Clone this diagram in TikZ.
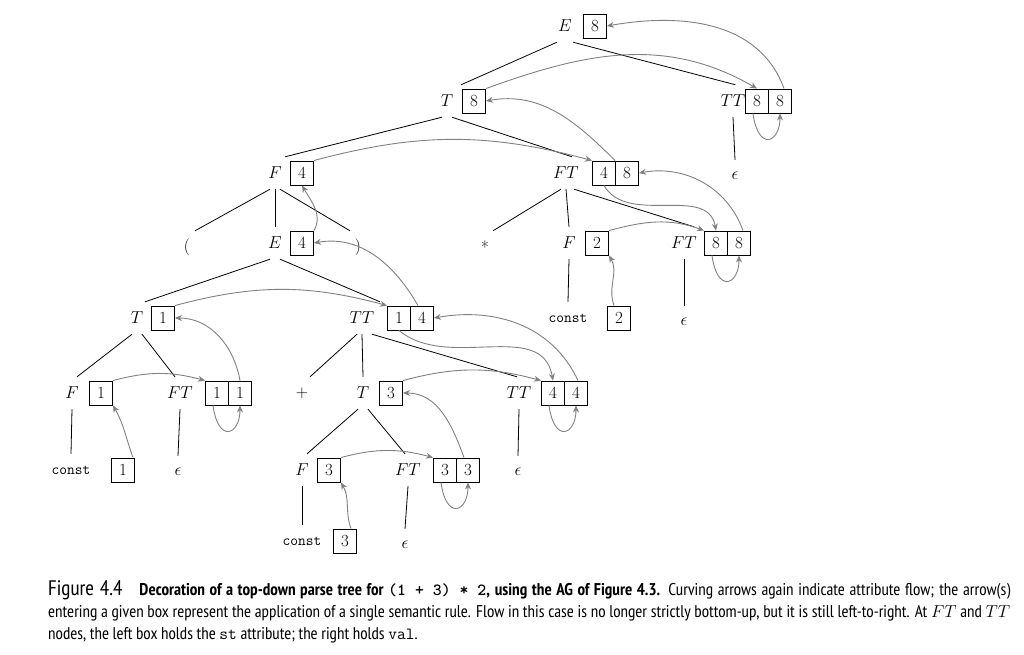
\documentclass[tikz,border=0pt]{standalone}
\usepackage{fontspec}
\newfontfamily\capfont{PT Sans Narrow}
\usetikzlibrary{arrows.meta}
\begin{document}
\begin{tikzpicture}[x=1pt,y=-1pt,
  bx/.style={draw,line width=0.9pt,minimum width=23pt,minimum height=24pt,inner sep=0pt,font=\fontsize{17}{17}\selectfont},
  lb/.style={inner sep=0pt,minimum height=32pt,minimum width=14pt,font=\fontsize{17}{17}\selectfont},
  tr/.style={line width=0.8pt},
  fl/.style={draw=gray,line width=0.9pt,-{Stealth[length=7pt,width=6pt]}},
  cst/.style={inner sep=0pt,minimum height=32pt,font=\ttfamily\fontsize{15}{15}\selectfont}]
\useasboundingbox (0,0) rectangle (1024,654);
% level 0
\node[lb] (E) at (565,26) {$E$};
\node[bx] (Eb) at (595,26) {8};
% level 1
\node[lb] (T) at (447,101) {$T$};
\node[bx] (Tb) at (474,101) {8};
\node[lb] (TT) at (733,101) {$TT$};
\node[bx] (TTa) at (757,101) {8};
\node[bx] (TTb) at (780,101) {8};
% level 2
\node[lb] (F) at (275,173) {$F$};
\node[bx] (Fb) at (302,173) {4};
\node[lb] (FT) at (566,173) {$FT$};
\node[bx] (FTa) at (604,173) {4};
\node[bx] (FTb) at (627,173) {8};
\node[lb] (e1) at (735,176) {$\epsilon$};
% level 3
\node[lb] (lp) at (187,247) {(};
\node[lb] (E2) at (275,243) {$E$};
\node[bx] (E2b) at (302,243) {4};
\node[lb] (rp) at (358,247) {)};
\node[lb] (st) at (485,247) {*};
\node[lb] (F2) at (569,243) {$F$};
\node[bx] (F2b) at (597,243) {2};
\node[lb] (FT2) at (684,243) {$FT$};
\node[bx] (FT2a) at (716,243) {8};
\node[bx] (FT2b) at (739,243) {8};
% level 4
\node[lb] (T1) at (137,318) {$T$};
\node[bx] (T1b) at (163,318) {1};
\node[lb] (TT1) at (362,318) {$TT$};
\node[bx] (TT1a) at (399,318) {1};
\node[bx] (TT1b) at (422,318) {4};
\node[cst] (c2) at (568,318) {const};
\node[bx] (c2b) at (619,318) {2};
\node[lb] (e2) at (684,322) {$\epsilon$};
% level 5
\node[lb] (F1) at (72,393) {$F$};
\node[bx] (F1b) at (101,393) {1};
\node[lb] (FT1) at (180,393) {$FT$};
\node[bx] (FT1a) at (217,393) {1};
\node[bx] (FT1b) at (240,393) {1};
\node[lb] (pl) at (302,393) {+};
\node[lb] (T3) at (363,393) {$T$};
\node[bx] (T3b) at (391,393) {3};
\node[lb] (TT2) at (519,393) {$TT$};
\node[bx] (TT2a) at (553,393) {4};
\node[bx] (TT2b) at (576,393) {4};
% level 6
\node[cst] (c1) at (71,470) {const};
\node[bx] (c1b) at (123,470) {1};
\node[lb] (e3) at (178,472) {$\epsilon$};
\node[lb] (F3) at (302,470) {$F$};
\node[bx] (F3b) at (329,470) {3};
\node[lb] (FT3) at (408,470) {$FT$};
\node[bx] (FT3a) at (445,470) {3};
\node[bx] (FT3b) at (468,470) {3};
\node[lb] (e4) at (518,472) {$\epsilon$};
% level 7
\node[cst] (c3) at (302,541) {const};
\node[bx] (c3b) at (345,541) {3};
\node[lb] (e5) at (405,545) {$\epsilon$};
% tree edges
\draw[tr] ([xshift=-8]E.south) -- ([xshift=14]T.north);
\draw[tr] ([xshift=8]E.south) -- ([xshift=-10]TT.north east);
\draw[tr] ([xshift=-5]T.south) -- ([xshift=10]F.north);
\draw[tr] ([xshift=5]T.south) -- ([xshift=6]FT.north);
\draw[tr] (TT.south) -- (e1.north);
\draw[tr] ([xshift=-5]F.south) -- ([xshift=8]lp.north);
\draw[tr] (F.south) -- (E2.north);
\draw[tr] ([xshift=5]F.south) -- ([xshift=-8]rp.north);
\draw[tr] ([xshift=-5]FT.south) -- ([xshift=8]st.north);
\draw[tr] (FT.south) -- (F2.north);
\draw[tr] ([xshift=8]FT.south) -- ([xshift=10]FT2.north);
\draw[tr] (FT2.south) -- (e2.north);
\draw[tr] (F2.south) -- (c2.north);
\draw[tr] ([xshift=-5]E2.south) -- ([xshift=8]T1.north);
\draw[tr] ([xshift=5]E2.south) -- ([xshift=18]TT1.north);
\draw[tr] ([xshift=-5]T1.south) -- ([xshift=5]F1.north);
\draw[tr] ([xshift=5]T1.south) -- ([xshift=-5]FT1.north);
\draw[tr] ([xshift=-5]TT1.south) -- ([xshift=8]pl.north);
\draw[tr] (TT1.south) -- (T3.north);
\draw[tr] ([xshift=10]TT1.south) -- ([xshift=-2]TT2.north);
\draw[tr] (F1.south) -- (c1.north);
\draw[tr] (FT1.south) -- (e3.north);
\draw[tr] ([xshift=-5]T3.south) -- ([xshift=5]F3.north);
\draw[tr] ([xshift=5]T3.south) -- ([xshift=-3]FT3.north);
\draw[tr] (TT2.south) -- (e4.north);
\draw[tr] (F3.south) -- (c3.north);
\draw[tr] (FT3.south) -- (e5.north);
% flow arrows
\draw[fl] ([xshift=4]TTb.north) to[out=110,in=10] (Eb.east);
\draw[fl] (Tb.north east) to[out=20,in=150] (TTa.north);
\draw[fl] ([xshift=-4]TTa.south) .. controls +(5,38) and +(0,30) .. (TTb.south);
\draw[fl] (Fb.north east) to[out=15,in=165] (FTa.north west);
\draw[fl] (FTb.north west) to[out=135,in=10] (Tb.east);
\draw[fl] (FTa.south) to[out=-60,in=100] (FT2a.north);
\draw[fl] (F2b.north east) to[out=15,in=160] (FT2a.north west);
\draw[fl] ([xshift=4]FT2b.north) to[out=110,in=10] (FTb.east);
\draw[fl] ([xshift=-4]FT2a.south) .. controls +(5,38) and +(0,30) .. (FT2b.south);
\draw[fl] ([xshift=-5]c2b.north) to[out=110,in=-60] (F2b.south east);
\draw[fl] (E2b.north east) to[out=60,in=-60] (Fb.south);
\draw[fl] (T1b.north east) to[out=15,in=165] (TT1a.north west);
\draw[fl] ([xshift=-4]TT1b.north) to[out=120,in=10] (E2b.east);
\draw[fl] (TT1a.south) to[out=-40,in=100] (TT2a.north);
\draw[fl] (T3b.north east) to[out=15,in=165] (TT2a.north west);
\draw[fl] ([xshift=2]TT2b.north) to[out=115,in=10] (TT1b.east);
\draw[fl] ([xshift=-4]TT2a.south) .. controls +(5,38) and +(0,30) .. (TT2b.south);
\draw[fl] (F1b.north east) to[out=15,in=165] (FT1a.north west);
\draw[fl] (FT1b.north) to[out=100,in=0] (T1b.east);
\draw[fl] ([xshift=-4]FT1a.south) .. controls +(5,38) and +(0,30) .. (FT1b.south);
\draw[fl] ([xshift=10]c1b.north) to[out=110,in=-60] (F1b.south east);
\draw[fl] (F3b.north east) to[out=15,in=165] (FT3a.north west);
\draw[fl] ([xshift=-4]FT3b.north) to[out=110,in=0] (T3b.east);
\draw[fl] ([xshift=-4]FT3a.south) .. controls +(5,38) and +(0,30) .. (FT3b.south);
\draw[fl] ([xshift=6]c3b.north) to[out=110,in=-60] (F3b.south east);
% caption
\node[anchor=north west,inner sep=0pt,text width=962pt,align=justify,
  font=\capfont\fontsize{17}{22}\selectfont] (cap) at (48,580)
 {{\fontsize{21}{22}\selectfont Figure 4.4}\quad\textbf{Decoration of a top-down parse tree for \texttt{(1 + 3) * 2}, using the AG of Figure 4.3.} Curving arrows again indicate attribute flow; the arrow(s) entering a given box represent the application of a single semantic rule. Flow in this case is no longer strictly bottom-up, but it is still left-to-right. At $FT$ and $TT$ nodes, the left box holds the \texttt{st} attribute; the right holds \texttt{val}.};
\end{tikzpicture}
\end{document}
